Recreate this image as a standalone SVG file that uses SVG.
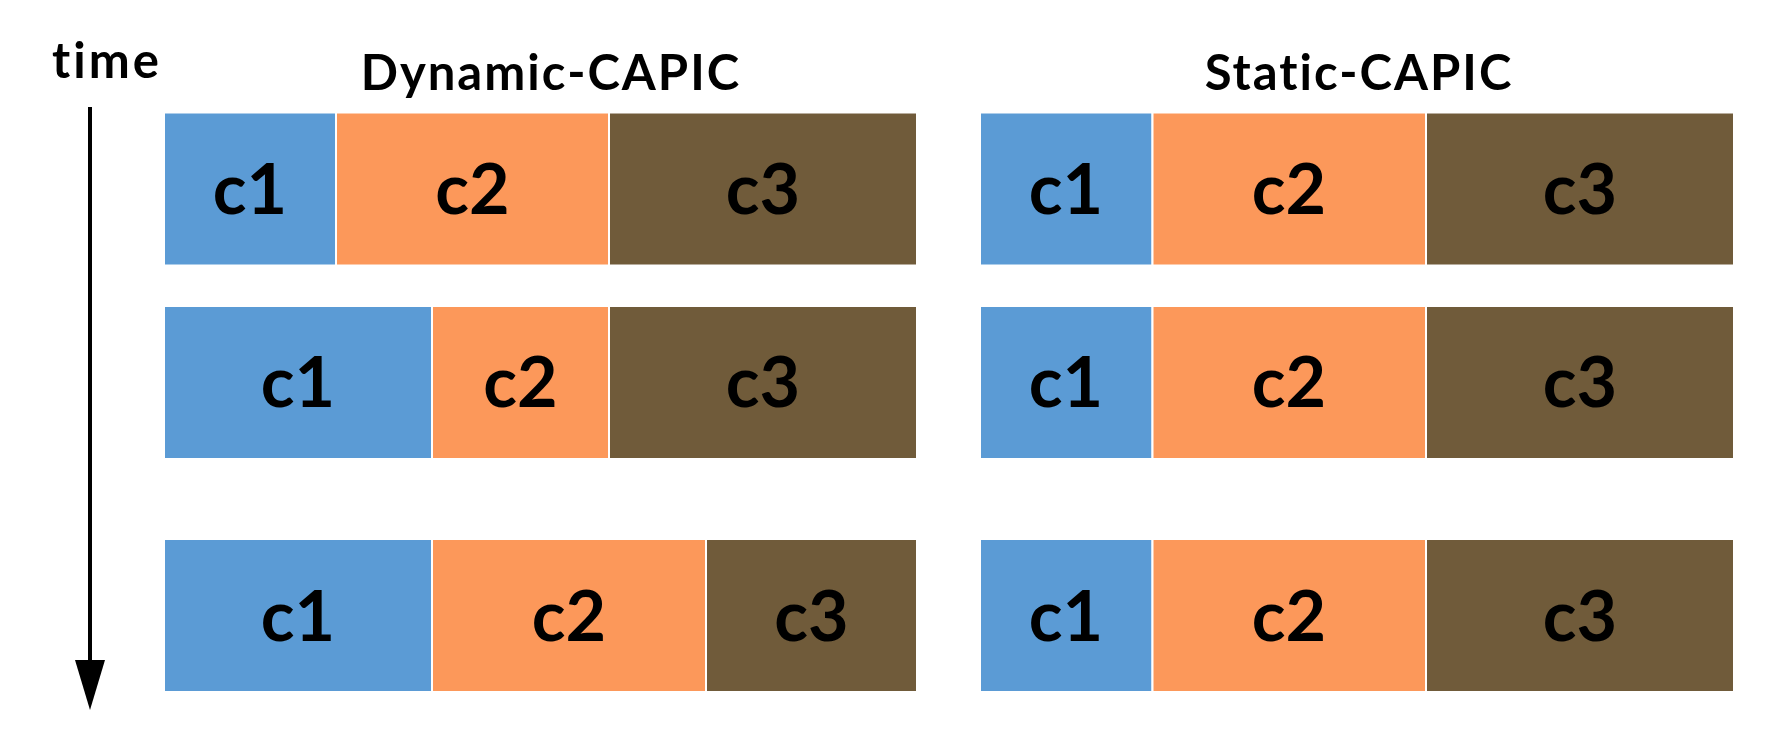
<svg xmlns="http://www.w3.org/2000/svg" width="1770" height="738" viewBox="0 0 1770 738">
<style>
text{font-variant-ligatures:none;font-feature-settings:"liga" 0,"clig" 0}
.b{fill:#5B9BD5}
.o{fill:#FC985A}
.r{fill:#705B3A}
.cell{stroke:#FFFFFF;stroke-width:2}
.lbl{font-family:Lato,"Liberation Sans",sans-serif;font-weight:bold;font-size:70px;fill:#000000;text-anchor:middle}
.ttl{font-family:Lato,"Liberation Sans",sans-serif;font-weight:bold;font-size:49px;fill:#000000;text-anchor:middle;letter-spacing:2px}
</style>
<rect width="1770" height="738" fill="#FFFFFF"/>
<g id="time-axis">
<text class="ttl" x="107" y="78" font-size="52" style="letter-spacing:3px">time</text>
</g>
<g id="connectors">
<line x1="90" y1="107" x2="90" y2="662" stroke="#000000" stroke-width="4"/>
<polygon points="75,660 105,660 90,710" fill="#000000"/>
</g>
<g id="title-dynamic"><text class="ttl" x="551" y="90">Dynamic-CAPIC</text></g>
<g id="title-static"><text class="ttl" x="1359" y="90">Static-CAPIC</text></g>

<g id="dyn-row1">
<rect class="cell b" x="164" y="112.5" width="172" height="153"/>
<rect class="cell o" x="336" y="112.5" width="273" height="153"/>
<rect class="cell r" x="609" y="112.5" width="308" height="153"/>
<text class="lbl" x="250" y="214">c1</text>
<text class="lbl" x="472.5" y="214">c2</text>
<text class="lbl" x="763" y="214">c3</text>
</g>
<g id="dyn-row2">
<rect class="cell b" x="164" y="306" width="268" height="153"/>
<rect class="cell o" x="432" y="306" width="177" height="153"/>
<rect class="cell r" x="609" y="306" width="308" height="153"/>
<text class="lbl" x="298" y="407">c1</text>
<text class="lbl" x="520.5" y="407">c2</text>
<text class="lbl" x="763" y="407">c3</text>
</g>
<g id="dyn-row3">
<rect class="cell b" x="164" y="539" width="268" height="153"/>
<rect class="cell o" x="432" y="539" width="274" height="153"/>
<rect class="cell r" x="706" y="539" width="211" height="153"/>
<text class="lbl" x="298" y="641">c1</text>
<text class="lbl" x="569" y="641">c2</text>
<text class="lbl" x="811.5" y="641">c3</text>
</g>

<g id="sta-row1">
<rect class="cell b" x="980" y="112.5" width="172.5" height="153"/>
<rect class="cell o" x="1152.5" y="112.5" width="273.5" height="153"/>
<rect class="cell r" x="1426" y="112.5" width="308" height="153"/>
<text class="lbl" x="1066" y="214">c1</text>
<text class="lbl" x="1289" y="214">c2</text>
<text class="lbl" x="1580" y="214">c3</text>
</g>
<g id="sta-row2">
<rect class="cell b" x="980" y="306" width="172.5" height="153"/>
<rect class="cell o" x="1152.5" y="306" width="273.5" height="153"/>
<rect class="cell r" x="1426" y="306" width="308" height="153"/>
<text class="lbl" x="1066" y="407">c1</text>
<text class="lbl" x="1289" y="407">c2</text>
<text class="lbl" x="1580" y="407">c3</text>
</g>
<g id="sta-row3">
<rect class="cell b" x="980" y="539" width="172.5" height="153"/>
<rect class="cell o" x="1152.5" y="539" width="273.5" height="153"/>
<rect class="cell r" x="1426" y="539" width="308" height="153"/>
<text class="lbl" x="1066" y="641">c1</text>
<text class="lbl" x="1289" y="641">c2</text>
<text class="lbl" x="1580" y="641">c3</text>
</g>
</svg>
